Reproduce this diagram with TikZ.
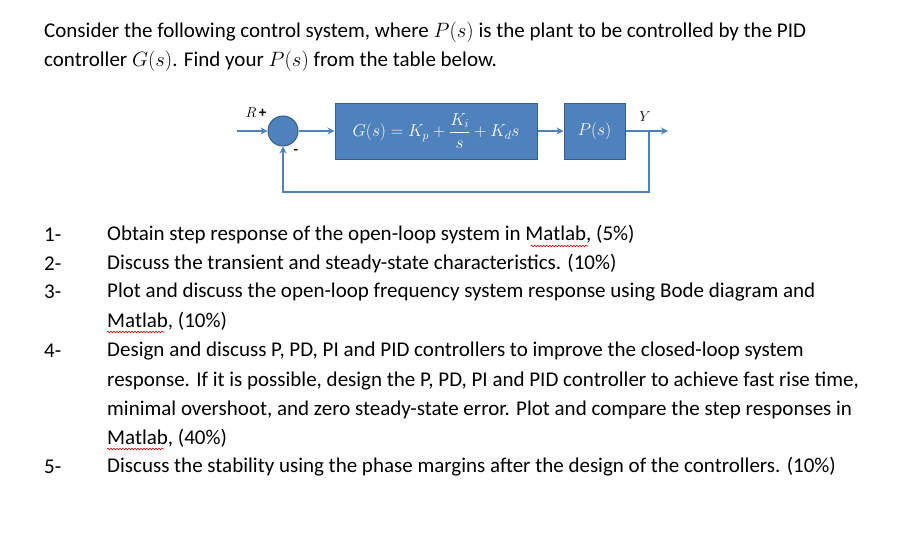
\documentclass[tikz,border=0pt]{standalone}
\usepackage{fontspec}
\setmainfont{Carlito}
\usetikzlibrary{arrows.meta,decorations.pathmorphing}
\definecolor{blk}{HTML}{4F81BD}
\definecolor{blkd}{HTML}{385D8A}
\tikzset{
 txt/.style={anchor=west,inner sep=0pt,font=\fontsize{21}{25}\selectfont},
 blockbox/.style={draw=blkd,fill=blk,line width=1pt,text=white,inner sep=0pt},
 sig/.style={draw=blk,line width=1.2pt,-{Stealth[length=7pt,width=7pt,open]}},
 squig/.style={draw=red!80!black,line width=0.6pt,decorate,decoration={snake,amplitude=0.8pt,segment length=3pt}}
}
\newcommand{\ml}{Matlab}
\begin{document}
\begin{tikzpicture}[x=1pt,y=-1pt]
\useasboundingbox[fill=white] (0,0) rectangle (910,543);
\node[txt] (l1) at (44,32) {Consider the following control system, where $P(s)$ is the plant to be controlled by the PID};
\node[txt] (l2) at (44,61) {controller $G(s)$. Find your $P(s)$ from the table below.};
% diagram
\node[circle,blockbox,minimum size=30pt] (sum) at (283,131) {};
\node[blockbox,minimum width=202pt,minimum height=56pt,font=\fontsize{17}{19}\selectfont] (G) at (436,131) {$\displaystyle G(s)=K_p+\frac{K_i}{s}+K_d s$};
\node[blockbox,minimum width=61pt,minimum height=56pt,font=\fontsize{17}{19}\selectfont] (P) at (594.5,131) {$P(s)$};
\coordinate (in) at (237,131);
\coordinate (tap) at (649,131);
\coordinate (out) at (668,131);
\draw[sig] (in) -- (sum);
\draw[sig] (sum) -- (G);
\draw[sig] (G) -- (P);
\draw[sig] (P) -- (out);
\draw[sig] (tap) |- (283,192) -- (sum);
\node[font=\fontsize{15}{17}\selectfont,inner sep=0pt] (R) at (256,113) {$R$\,\textbf{+}};
\node[font=\fontsize{15}{17}\selectfont,inner sep=0pt] (minus) at (296,152) {\textbf{-}};
\node[font=\fontsize{15}{17}\selectfont,inner sep=0pt] (Y) at (645,117) {$Y$};
% list
\node[txt] (n1) at (44,235) {1-};
\node[txt] (t1) at (107,235) {Obtain step response of the open-loop system in \ml, (5\%)};
\node[txt] (n2) at (44,264) {2-};
\node[txt] (t2) at (107,264) {Discuss the transient and steady-state characteristics. (10\%)};
\node[txt] (n3) at (44,292) {3-};
\node[txt] (t3) at (107,292) {Plot and discuss the open-loop frequency system response using Bode diagram and};
\node[txt] (t3b) at (107,321) {\ml, (10\%)};
\node[txt] (n4) at (44,351) {4-};
\node[txt] (t4) at (107,351) {Design and discuss P, PD, PI and PID controllers to improve the closed-loop system};
\node[txt] (t4b) at (107,381) {response. If it is possible, design the P, PD, PI and PID controller to achieve fast rise time,};
\node[txt] (t4c) at (107,410) {minimal overshoot, and zero steady-state error. Plot and compare the step responses in};
\node[txt] (t4d) at (107,438) {\ml, (40\%)};
\node[txt] (n5) at (44,467) {5-};
\node[txt] (t5) at (107,467) {Discuss the stability using the phase margins after the design of the controllers. (10\%)};
\draw[squig] (t1.east) ++(-104,11) -- ++(57,0);
\draw[squig] (t3b.west) ++(0,11) -- ++(57,0);
\draw[squig] (t4d.west) ++(0,11) -- ++(57,0);
\end{tikzpicture}
\end{document}
